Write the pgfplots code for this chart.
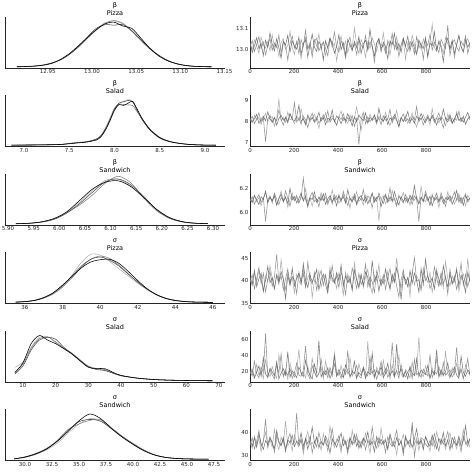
\documentclass[border=0pt]{standalone}
\usepackage{pgfplots}
\pgfplotsset{compat=1.18}
\usepackage{pgfplotstable}
\usepackage{fontspec}
\setmainfont{DejaVu Sans}
\definecolor{cA}{HTML}{000000}
\definecolor{cB}{HTML}{4D4D4D}
\definecolor{cC}{HTML}{808080}
\definecolor{cD}{HTML}{B3B3B3}
\definecolor{tA}{HTML}{5A5A5A}
\definecolor{tB}{HTML}{787878}
\definecolor{tC}{HTML}{9A9A9A}
\definecolor{spine}{HTML}{262626}

\pgfplotstableread{
x a b c d
12.915 0.003 0.002 0.002 0.001
12.925 0.008 0.005 0.006 0.005
12.935 0.018 0.015 0.017 0.014
12.945 0.037 0.042 0.040 0.035
12.955 0.080 0.090 0.085 0.078
12.965 0.170 0.160 0.165 0.158
12.975 0.300 0.280 0.290 0.282
12.985 0.470 0.450 0.440 0.455
12.995 0.650 0.660 0.630 0.640
13.005 0.820 0.850 0.810 0.830
13.015 0.950 0.930 0.960 0.975
13.025 0.985 0.920 1.020 1.010
13.035 0.900 0.930 0.960 0.945
13.045 0.850 0.800 0.790 0.780
13.055 0.640 0.600 0.590 0.620
13.065 0.420 0.410 0.405 0.430
13.075 0.250 0.265 0.250 0.262
13.085 0.140 0.150 0.140 0.146
13.095 0.075 0.070 0.072 0.075
13.105 0.035 0.030 0.034 0.033
13.115 0.014 0.012 0.013 0.013
13.125 0.006 0.004 0.005 0.005
13.135 0.002 0.002 0.002 0.001
}\kdeA
\pgfplotstableread{
x a b c d
6.86 0.004 0.003 0.006 0.004
7.00 0.007 0.006 0.009 0.008
7.20 0.011 0.010 0.013 0.012
7.40 0.020 0.018 0.022 0.020
7.50 0.035 0.045 0.040 0.038
7.60 0.055 0.065 0.060 0.058
7.70 0.075 0.085 0.080 0.078
7.80 0.120 0.140 0.140 0.120
7.85 0.190 0.210 0.220 0.190
7.90 0.340 0.360 0.380 0.330
7.95 0.550 0.560 0.600 0.530
8.00 0.780 0.800 0.820 0.760
8.05 0.900 0.930 0.910 0.930
8.10 0.880 0.960 0.900 0.970
8.15 0.930 0.990 0.890 1.010
8.20 0.970 0.960 0.880 0.970
8.25 0.800 0.770 0.740 0.790
8.30 0.610 0.580 0.600 0.600
8.35 0.460 0.440 0.460 0.450
8.40 0.330 0.320 0.340 0.330
8.50 0.170 0.160 0.180 0.170
8.60 0.090 0.085 0.095 0.090
8.70 0.048 0.050 0.052 0.050
8.80 0.024 0.026 0.026 0.025
8.90 0.012 0.013 0.014 0.013
9.00 0.006 0.006 0.007 0.006
9.12 0.003 0.002 0.004 0.003
}\kdeB
\pgfplotstableread{
x a b c d
5.915 0.003 0.002 0.004 0.003
5.940 0.013 0.011 0.012 0.012
5.965 0.045 0.038 0.040 0.042
5.990 0.120 0.100 0.110 0.110
6.015 0.270 0.240 0.250 0.260
6.040 0.520 0.450 0.420 0.480
6.065 0.770 0.700 0.640 0.740
6.090 0.920 0.930 0.900 0.960
6.115 0.950 0.990 1.050 0.980
6.140 0.820 0.860 0.900 0.830
6.165 0.580 0.600 0.570 0.570
6.190 0.320 0.310 0.290 0.310
6.215 0.140 0.130 0.120 0.130
6.240 0.050 0.045 0.042 0.046
6.265 0.015 0.013 0.013 0.014
6.290 0.004 0.004 0.004 0.005
}\kdeC
\pgfplotstableread{
x a b c d
35.5 0.005 0.006 0.007 0.005
36.0 0.015 0.018 0.018 0.015
36.5 0.040 0.046 0.045 0.040
37.0 0.100 0.110 0.100 0.090
37.5 0.210 0.210 0.190 0.180
38.0 0.380 0.370 0.340 0.340
38.5 0.570 0.580 0.540 0.600
39.0 0.760 0.800 0.770 0.880
39.5 0.890 0.950 0.950 1.060
40.0 0.940 1.000 1.020 1.040
40.5 0.950 0.930 0.970 0.900
41.0 0.860 0.800 0.820 0.740
41.5 0.680 0.620 0.630 0.580
42.0 0.480 0.450 0.440 0.420
42.5 0.300 0.290 0.290 0.280
43.0 0.170 0.170 0.170 0.160
43.5 0.085 0.090 0.090 0.085
44.0 0.040 0.045 0.044 0.040
44.5 0.017 0.020 0.019 0.018
45.0 0.007 0.008 0.008 0.007
45.5 0.003 0.003 0.003 0.003
46.0 0.001 0.001 0.001 0.001
}\kdeD
\pgfplotstableread{
x a b c d
7.5 0.18 0.15 0.20 0.30
10.0 0.40 0.33 0.37 0.42
12.5 0.82 0.68 0.72 0.74
15.0 1.00 0.90 0.93 0.96
17.5 0.90 0.96 0.97 0.98
20.0 0.82 0.92 0.86 0.84
22.5 0.71 0.74 0.72 0.71
25.0 0.59 0.60 0.61 0.60
27.5 0.44 0.45 0.46 0.46
30.0 0.30 0.31 0.32 0.33
32.5 0.27 0.25 0.27 0.27
35.0 0.27 0.23 0.25 0.23
37.5 0.19 0.17 0.18 0.17
40.0 0.12 0.11 0.12 0.12
45.0 0.06 0.06 0.06 0.06
50.0 0.030 0.030 0.030 0.030
55.0 0.015 0.015 0.016 0.015
60.0 0.008 0.008 0.008 0.008
65.0 0.004 0.004 0.004 0.004
68.0 0.002 0.002 0.002 0.002
}\kdeE
\pgfplotstableread{
x a b c d
29 0.010 0.012 0.010 0.010
30 0.050 0.055 0.045 0.050
31 0.120 0.130 0.110 0.120
32 0.230 0.240 0.220 0.210
33 0.400 0.410 0.420 0.360
34 0.620 0.640 0.660 0.580
35 0.850 0.830 0.780 0.780
36 1.000 0.880 0.860 0.900
37 0.900 0.840 0.880 0.860
38 0.680 0.680 0.700 0.690
39 0.490 0.500 0.510 0.510
40 0.330 0.340 0.350 0.350
41 0.190 0.200 0.210 0.200
42 0.095 0.100 0.100 0.100
43 0.043 0.045 0.045 0.046
44 0.020 0.020 0.020 0.021
45 0.010 0.010 0.010 0.011
46 0.006 0.006 0.006 0.007
47 0.004 0.004 0.004 0.004
}\kdeF

\pgfplotsset{
  base/.style={scale only axis, height=51pt, anchor=north west,
    axis lines*=left, axis line style={line width=0.5pt, color=spine, -},
    tick style={draw=none},
    ticklabel style={font=\fontsize{5.5}{6}\selectfont, text=black!85},
    xticklabel style={inner sep=1.5pt},
    yticklabel style={inner sep=1.5pt},
    title style={font=\fontsize{6.5}{8.3}\selectfont, align=center, at={(0.5,1)}, anchor=south, inner sep=0.8pt, yshift=-5.5pt}},
  kde/.style={base, width=220pt, ymin=-0.025, ymax=1.1, ytick=\empty},
  trace/.style={base, width=220pt, xmin=0, xmax=999, xtick={0,200,400,600,800},
    xticklabels={0,200,400,600,800}},
  kl/.style={line width=0.55pt, smooth},
  tr/.style={line width=0.55pt, opacity=0.8},
}

\begin{document}
\begin{tikzpicture}
\path[use as bounding box] (0,0) rectangle (474pt,473pt);

% ---------- Row 1: beta Pizza ----------
\begin{axis}[kde, at={(5pt,456pt)}, title={β\\Pizza}, xmin=12.9017, xmax=13.1505,
  xtick={12.95,13.00,13.05,13.10,13.15}, xticklabels={12.95,13.00,13.05,13.10,13.15}]
\addplot[cD, kl] table[x=x, y=d] {\kdeA};
\addplot[cC, kl] table[x=x, y=c] {\kdeA};
\addplot[cB, kl] table[x=x, y=b] {\kdeA};
\addplot[cA, kl] table[x=x, y=a] {\kdeA};
\end{axis}
\begin{axis}[trace, at={(250pt,456pt)}, title={β\\Pizza}, ymin=12.914, ymax=13.157,
  ytick={13.0,13.1}, yticklabels={13.0,13.1}]
\addplot[tC, tr] table[row sep=\\, header=false, x expr=\coordindex*10.09, y index=0] {
13.031\\13.002\\13.047\\13.018\\12.985\\13.060\\13.024\\13.009\\13.041\\12.996\\
13.072\\13.015\\13.028\\12.968\\13.036\\13.054\\13.003\\13.021\\13.089\\13.012\\
12.979\\13.044\\13.030\\12.958\\13.026\\13.061\\13.008\\13.035\\12.991\\13.049\\
13.017\\13.077\\13.001\\13.039\\12.973\\13.023\\13.056\\13.011\\13.033\\12.947\\
13.020\\13.066\\13.005\\13.042\\12.988\\13.029\\13.013\\13.104\\13.025\\12.982\\
13.050\\13.019\\12.964\\13.037\\13.007\\13.058\\13.027\\12.993\\13.045\\13.014\\
13.081\\13.000\\13.032\\12.976\\13.040\\13.016\\13.063\\12.998\\13.022\\13.048\\
12.955\\13.034\\13.010\\13.070\\13.026\\12.986\\13.043\\13.004\\13.052\\13.019\\
12.970\\13.038\\13.123\\13.012\\12.994\\13.046\\13.023\\12.981\\13.059\\13.030\\
13.006\\13.041\\12.962\\13.027\\13.068\\13.015\\12.990\\13.036\\13.054\\13.021\\
};
\addplot[tB, tr] table[row sep=\\, header=false, x expr=\coordindex*10.09, y index=0] {
13.012\\13.045\\12.992\\13.027\\13.063\\13.004\\13.038\\12.977\\13.020\\13.055\\
12.998\\13.033\\13.011\\13.071\\12.985\\13.042\\13.024\\12.951\\13.030\\13.066\\
13.009\\13.036\\12.983\\13.049\\13.017\\13.094\\13.002\\13.028\\12.967\\13.041\\
13.056\\12.995\\13.022\\13.037\\13.008\\12.972\\13.050\\13.026\\13.085\\13.013\\
12.989\\13.044\\13.019\\12.960\\13.034\\13.061\\13.001\\13.029\\12.978\\13.047\\
13.023\\13.010\\13.069\\12.996\\13.039\\13.016\\12.942\\13.031\\13.053\\13.007\\
13.026\\12.984\\13.045\\13.018\\13.078\\13.003\\13.035\\12.969\\13.024\\13.058\\
13.014\\12.993\\13.040\\13.027\\12.980\\13.064\\13.009\\13.032\\12.954\\13.046\\
13.021\\13.074\\12.999\\13.037\\13.012\\12.987\\13.051\\13.025\\13.006\\13.118\\
12.974\\13.033\\13.048\\13.015\\12.994\\13.042\\13.020\\13.067\\12.983\\13.029\\
};
\addplot[tA, tr] table[row sep=\\, header=false, x expr=\coordindex*10.09, y index=0] {
13.040\\12.987\\13.021\\13.058\\13.006\\13.032\\12.973\\13.046\\13.015\\13.082\\
13.027\\12.996\\13.053\\13.010\\12.961\\13.037\\13.024\\13.069\\12.990\\13.043\\
13.019\\13.004\\13.061\\12.980\\13.030\\13.048\\12.966\\13.025\\13.075\\13.013\\
12.994\\13.039\\13.022\\12.952\\13.044\\13.008\\13.057\\13.031\\12.985\\13.016\\
13.072\\13.001\\13.035\\12.976\\13.050\\13.023\\12.997\\13.041\\13.011\\13.063\\
12.983\\13.028\\13.046\\13.005\\13.098\\13.019\\12.971\\13.034\\13.055\\12.992\\
13.037\\13.014\\12.958\\13.043\\13.026\\13.079\\13.002\\13.031\\12.988\\13.052\\
13.018\\13.065\\12.995\\13.040\\13.009\\12.978\\13.047\\13.024\\13.007\\13.060\\
12.965\\13.033\\13.020\\13.086\\12.999\\13.038\\13.012\\12.944\\13.029\\13.056\\
13.003\\13.045\\12.982\\13.025\\13.070\\13.016\\12.991\\13.049\\13.013\\13.036\\
};
\end{axis}

% ---------- Row 2: beta Salad ----------
\begin{axis}[kde, at={(5pt,377.5pt)}, title={β\\Salad}, xmin=6.79, xmax=9.221,
  xtick={7.0,7.5,8.0,8.5,9.0}, xticklabels={7.0,7.5,8.0,8.5,9.0}]
\addplot[cD, kl] table[x=x, y=d] {\kdeB};
\addplot[cC, kl] table[x=x, y=c] {\kdeB};
\addplot[cB, kl] table[x=x, y=b] {\kdeB};
\addplot[cA, kl] table[x=x, y=a] {\kdeB};
\end{axis}
\begin{axis}[trace, at={(250pt,377.5pt)}, title={β\\Salad}, ymin=6.83, ymax=9.26,
  ytick={7,8,9}, yticklabels={7,8,9}]
\addplot[tC, tr] table[row sep=\\, header=false, x expr=\coordindex*10.09, y index=0] {
8.14\\7.95\\8.31\\8.08\\8.22\\7.88\\8.17\\8.40\\8.03\\8.19\\
8.26\\7.79\\8.12\\9.08\\8.05\\8.21\\7.98\\8.47\\8.10\\8.15\\
7.91\\8.28\\8.06\\8.62\\8.13\\7.84\\8.24\\8.01\\8.18\\8.37\\
8.09\\7.70\\8.20\\8.11\\8.44\\7.97\\8.16\\8.29\\8.04\\7.86\\
8.23\\8.52\\8.07\\8.14\\7.93\\8.33\\8.02\\8.19\\8.71\\8.10\\
7.60\\8.25\\8.12\\7.96\\8.38\\8.06\\8.17\\7.89\\8.27\\8.13\\
8.00\\8.45\\8.09\\7.82\\8.21\\8.15\\8.56\\7.99\\8.18\\8.05\\
8.30\\7.92\\8.14\\8.41\\8.03\\7.75\\8.22\\8.11\\8.34\\8.07\\
8.16\\7.87\\8.64\\8.08\\8.20\\7.95\\8.26\\8.12\\7.81\\8.39\\
8.04\\8.18\\7.98\\8.49\\8.13\\8.02\\8.29\\7.90\\8.15\\8.23\\
};
\addplot[tB, tr] table[row sep=\\, header=false, x expr=\coordindex*10.09, y index=0] {
8.09\\8.27\\7.92\\8.16\\8.44\\8.01\\8.20\\7.06\\8.13\\8.32\\
7.97\\8.18\\8.06\\8.58\\8.11\\7.85\\8.24\\8.03\\8.37\\8.14\\
8.92\\8.00\\8.19\\7.89\\8.28\\8.10\\7.73\\8.15\\8.42\\8.05\\
8.22\\7.94\\8.13\\8.34\\8.07\\8.53\\7.99\\8.17\\8.09\\7.83\\
8.26\\8.12\\8.40\\7.96\\8.21\\8.04\\8.31\\7.78\\8.16\\6.92\\
8.10\\8.46\\7.91\\8.24\\8.02\\8.14\\8.35\\8.01\\8.19\\7.87\\
8.29\\8.08\\8.12\\8.60\\7.95\\8.23\\8.06\\7.80\\8.18\\8.38\\
8.03\\8.15\\7.93\\8.27\\8.11\\8.74\\8.00\\8.20\\7.86\\8.13\\
8.33\\8.07\\8.25\\7.98\\8.16\\8.43\\8.05\\7.72\\8.21\\8.10\\
8.36\\7.94\\8.17\\8.08\\8.51\\8.02\\8.24\\7.89\\8.14\\8.30\\
};
\addplot[tA, tr] table[row sep=\\, header=false, x expr=\coordindex*10.09, y index=0] {
8.20\\8.01\\8.15\\8.36\\7.93\\8.11\\8.27\\8.05\\8.48\\8.14\\
8.00\\8.22\\7.84\\8.17\\8.31\\8.08\\8.19\\7.96\\8.41\\8.12\\
8.06\\8.25\\8.79\\8.03\\8.16\\7.90\\8.34\\8.10\\8.21\\7.98\\
8.13\\8.46\\8.04\\8.23\\7.87\\8.18\\8.09\\8.57\\8.01\\8.28\\
8.15\\7.92\\8.20\\8.07\\8.39\\8.12\\7.81\\8.24\\8.02\\8.33\\
8.17\\8.06\\8.43\\7.95\\8.21\\8.10\\8.30\\7.99\\8.66\\8.14\\
8.04\\8.26\\7.88\\8.19\\8.08\\8.35\\8.13\\7.76\\8.22\\8.01\\
8.18\\8.50\\8.05\\8.15\\7.94\\8.28\\8.09\\8.40\\8.12\\7.97\\
8.24\\8.03\\8.32\\8.11\\7.85\\8.20\\8.07\\8.61\\8.16\\8.00\\
8.27\\7.93\\8.14\\8.38\\8.06\\8.19\\7.99\\8.23\\8.45\\8.10\\
};
\end{axis}

% ---------- Row 3: beta Sandwich ----------
\begin{axis}[kde, at={(5pt,299pt)}, title={β\\Sandwich}, xmin=5.894, xmax=6.3234,
  xtick={5.90,5.95,6.00,6.05,6.10,6.15,6.20,6.25,6.30},
  xticklabels={5.90,5.95,6.00,6.05,6.10,6.15,6.20,6.25,6.30}]
\addplot[cD, kl] table[x=x, y=d] {\kdeC};
\addplot[cC, kl] table[x=x, y=c] {\kdeC};
\addplot[cB, kl] table[x=x, y=b] {\kdeC};
\addplot[cA, kl] table[x=x, y=a] {\kdeC};
\end{axis}
\begin{axis}[trace, at={(250pt,299pt)}, title={β\\Sandwich}, ymin=5.9, ymax=6.325,
  ytick={6.0,6.2}, yticklabels={6.0,6.2}]
\addplot[tC, tr] table[row sep=\\, header=false, x expr=\coordindex*10.09, y index=0] {
6.112\\6.085\\6.143\\6.097\\6.128\\6.061\\6.119\\6.174\\6.090\\6.134\\
6.105\\6.158\\6.072\\6.121\\6.183\\6.094\\6.138\\6.047\\6.115\\6.166\\
6.101\\6.130\\6.079\\6.147\\6.108\\6.201\\6.089\\6.125\\6.056\\6.140\\
6.117\\6.093\\6.169\\6.104\\6.132\\6.068\\6.123\\6.190\\6.099\\6.145\\
6.082\\6.113\\6.155\\6.091\\6.127\\6.040\\6.136\\6.107\\6.178\\6.096\\
6.120\\6.066\\6.149\\6.110\\6.087\\6.160\\6.102\\6.131\\5.935\\6.118\\
6.144\\6.077\\6.126\\6.098\\6.187\\6.109\\6.053\\6.137\\6.114\\6.171\\
6.092\\6.129\\6.064\\6.150\\6.106\\6.139\\6.081\\6.221\\6.111\\6.095\\
6.133\\6.070\\6.157\\6.103\\6.124\\6.045\\6.141\\6.116\\6.088\\6.176\\
6.108\\6.135\\6.074\\6.122\\6.162\\6.097\\6.130\\6.059\\6.146\\6.113\\
};
\addplot[tB, tr] table[row sep=\\, header=false, x expr=\coordindex*10.09, y index=0] {
6.098\\6.136\\6.073\\6.119\\6.152\\6.090\\6.127\\5.931\\6.108\\6.141\\
6.083\\6.164\\6.113\\6.069\\6.131\\6.099\\6.185\\6.121\\6.058\\6.139\\
6.106\\6.147\\6.087\\6.124\\6.292\\6.111\\6.065\\6.133\\6.172\\6.095\\
6.118\\6.051\\6.140\\6.104\\6.163\\6.085\\6.129\\6.076\\6.151\\6.110\\
6.137\\6.092\\6.180\\6.115\\6.062\\6.126\\6.100\\6.158\\6.081\\6.134\\
6.109\\6.196\\6.089\\6.142\\6.120\\6.044\\6.131\\6.097\\6.167\\6.114\\
6.078\\6.139\\6.106\\6.210\\6.093\\6.125\\6.067\\6.148\\6.111\\6.084\\
6.154\\6.102\\6.128\\6.071\\6.143\\6.116\\5.928\\6.135\\6.099\\6.181\\
6.120\\6.061\\6.145\\6.107\\6.132\\6.088\\6.169\\6.113\\6.055\\6.138\\
6.096\\6.127\\6.176\\6.104\\6.141\\6.080\\6.122\\6.159\\6.091\\6.117\\
};
\addplot[tA, tr] table[row sep=\\, header=false, x expr=\coordindex*10.09, y index=0] {
6.125\\6.091\\6.148\\6.107\\6.070\\6.135\\6.115\\6.182\\6.086\\6.129\\
6.102\\6.140\\6.063\\6.118\\6.157\\6.095\\6.131\\6.079\\6.206\\6.110\\
6.137\\6.084\\6.121\\6.166\\6.099\\6.142\\6.050\\6.126\\6.113\\6.175\\
6.089\\6.133\\6.104\\6.160\\6.072\\6.119\\6.145\\6.096\\6.128\\6.059\\
6.151\\6.108\\6.136\\6.082\\6.194\\6.116\\6.093\\6.139\\6.067\\6.122\\
6.147\\6.100\\6.131\\6.076\\6.114\\6.168\\6.090\\6.127\\6.142\\6.054\\
6.120\\6.157\\6.087\\6.134\\6.101\\6.179\\6.112\\6.066\\6.138\\6.097\\
6.125\\6.085\\6.149\\6.109\\6.229\\6.117\\6.075\\6.132\\6.094\\6.155\\
6.103\\6.140\\6.060\\6.121\\6.164\\6.098\\6.135\\6.080\\6.126\\6.111\\
6.146\\6.073\\6.118\\6.187\\6.092\\6.130\\6.063\\6.143\\6.106\\6.124\\
};
\end{axis}

% ---------- Row 4: sigma Pizza ----------
\begin{axis}[kde, at={(5pt,220.5pt)}, title={σ\\Pizza}, xmin=34.94, xmax=46.64,
  xtick={36,38,40,42,44,46}, xticklabels={36,38,40,42,44,46}]
\addplot[cD, kl] table[x=x, y=d] {\kdeD};
\addplot[cC, kl] table[x=x, y=c] {\kdeD};
\addplot[cB, kl] table[x=x, y=b] {\kdeD};
\addplot[cA, kl] table[x=x, y=a] {\kdeD};
\end{axis}
\begin{axis}[trace, at={(250pt,220.5pt)}, title={σ\\Pizza}, ymin=34.9, ymax=46.44,
  ytick={35,40,45}, yticklabels={35,40,45}]
\addplot[tC, tr] table[row sep=\\, header=false, x expr=\coordindex*10.09, y index=0] {
40.3\\38.9\\41.7\\39.6\\42.5\\40.1\\37.8\\41.2\\39.9\\43.4\\
40.6\\38.4\\41.0\\39.2\\44.8\\40.4\\38.1\\42.1\\39.7\\40.9\\
37.3\\41.5\\40.0\\39.1\\42.8\\38.7\\40.7\\41.9\\36.2\\40.2\\
39.4\\42.3\\38.6\\40.8\\41.4\\37.6\\43.1\\39.8\\40.5\\38.3\\
41.8\\40.0\\36.8\\42.0\\39.5\\41.1\\38.0\\44.1\\40.3\\39.0\\
41.6\\38.5\\40.9\\42.6\\39.3\\37.2\\41.3\\40.1\\43.7\\38.8\\
40.4\\39.9\\42.2\\37.9\\41.0\\39.6\\45.2\\40.6\\38.2\\41.7\\
39.4\\40.8\\36.5\\42.4\\39.1\\41.2\\40.0\\38.6\\43.0\\40.7\\
39.7\\41.9\\37.4\\40.2\\42.7\\39.0\\41.4\\38.4\\44.4\\40.5\\
38.9\\41.1\\39.8\\42.9\\37.7\\40.3\\41.6\\39.2\\45.1\\40.0\\
};
\addplot[tB, tr] table[row sep=\\, header=false, x expr=\coordindex*10.09, y index=0] {
39.8\\41.4\\38.2\\40.6\\43.0\\39.4\\41.8\\37.5\\40.3\\42.2\\
38.8\\40.9\\46.0\\39.6\\41.2\\38.0\\40.5\\42.7\\39.1\\41.0\\
40.2\\37.1\\42.0\\39.9\\41.6\\38.6\\44.3\\40.4\\39.3\\41.9\\
37.9\\40.7\\42.4\\39.0\\41.3\\38.4\\40.1\\43.5\\39.7\\41.1\\
38.5\\42.1\\40.0\\36.9\\41.5\\39.5\\42.9\\40.8\\38.3\\41.7\\
39.2\\40.4\\43.8\\38.7\\41.0\\39.8\\37.4\\42.3\\40.6\\39.1\\
41.4\\38.1\\40.9\\42.8\\39.6\\41.8\\38.9\\36.4\\40.2\\42.5\\
39.3\\40.7\\38.6\\41.6\\45.3\\39.9\\40.3\\37.8\\42.0\\40.1\\
41.2\\38.3\\39.7\\43.2\\40.5\\38.8\\41.9\\39.4\\40.8\\37.0\\
42.6\\39.5\\41.1\\38.1\\40.4\\44.0\\39.0\\41.5\\38.7\\40.9\\
};
\addplot[tA, tr] table[row sep=\\, header=false, x expr=\coordindex*10.09, y index=0] {
41.0\\39.3\\42.4\\38.7\\40.5\\41.8\\37.6\\40.2\\43.3\\39.6\\
40.8\\38.2\\41.5\\39.9\\42.1\\40.4\\36.0\\41.2\\39.1\\42.9\\
38.9\\40.6\\41.7\\39.4\\43.9\\40.1\\38.5\\41.3\\39.8\\40.9\\
42.6\\38.0\\40.3\\41.6\\39.2\\37.3\\42.2\\40.7\\39.5\\41.9\\
40.0\\43.6\\38.8\\41.1\\39.7\\40.5\\37.9\\42.5\\40.2\\38.4\\
41.4\\39.0\\42.0\\40.8\\38.6\\44.6\\39.9\\41.2\\37.7\\40.4\\
39.4\\42.7\\40.0\\38.3\\41.5\\39.8\\43.0\\40.6\\35.8\\41.1\\
40.3\\38.7\\42.3\\39.5\\41.8\\40.1\\37.5\\42.8\\39.2\\44.9\\
41.0\\39.6\\40.7\\38.2\\42.1\\40.4\\39.0\\43.4\\40.9\\38.6\\
41.7\\39.3\\40.2\\42.5\\38.9\\41.3\\40.0\\37.4\\42.0\\39.7\\
};
\end{axis}

% ---------- Row 5: sigma Salad ----------
\begin{axis}[kde, at={(5pt,142pt)}, title={σ\\Salad}, xmin=4.49, xmax=71.84,
  xtick={10,20,30,40,50,60,70}, xticklabels={10,20,30,40,50,60,70}]
\addplot[cD, kl] table[x=x, y=d] {\kdeE};
\addplot[cC, kl] table[x=x, y=c] {\kdeE};
\addplot[cB, kl] table[x=x, y=b] {\kdeE};
\addplot[cA, kl] table[x=x, y=a] {\kdeE};
\end{axis}
\begin{axis}[trace, at={(250pt,142pt)}, title={σ\\Salad}, ymin=7.5, ymax=71.25,
  ytick={20,40,60}, yticklabels={20,40,60}]
\addplot[tC, tr] table[row sep=\\, header=false, x expr=\coordindex*10.09, y index=0] {
18.2\\24.5\\13.1\\29.7\\16.4\\21.0\\11.8\\35.2\\19.6\\14.3\\
26.8\\17.5\\12.2\\41.6\\20.3\\15.9\\23.7\\10.9\\31.4\\18.8\\
13.6\\22.1\\48.3\\16.7\\19.9\\12.5\\27.3\\15.2\\36.9\\20.6\\
14.0\\18.4\\25.9\\11.4\\33.8\\17.1\\21.8\\13.9\\44.2\\19.3\\
15.6\\28.4\\12.8\\22.6\\17.8\\38.5\\14.7\\20.1\\11.2\\30.2\\
18.9\\24.0\\13.4\\58.1\\16.2\\21.5\\12.0\\26.1\\19.0\\15.1\\
34.6\\17.3\\22.9\\11.6\\29.0\\14.5\\20.8\\40.7\\16.9\\13.2\\
23.4\\18.5\\12.6\\32.3\\15.7\\21.3\\63.5\\17.6\\14.1\\27.6\\
19.7\\11.9\\24.8\\16.0\\37.4\\13.7\\20.4\\15.4\\45.9\\18.1\\
12.3\\25.3\\17.0\\30.8\\14.9\\22.4\\11.1\\28.8\\19.4\\16.6\\
};
\addplot[tB, tr] table[row sep=\\, header=false, x expr=\coordindex*10.09, y index=0] {
21.4\\15.0\\33.6\\17.9\\12.7\\26.4\\19.1\\68.2\\14.2\\23.0\\
16.3\\11.5\\28.9\\18.6\\42.8\\13.8\\20.7\\15.8\\24.9\\12.1\\
19.5\\31.0\\16.1\\14.6\\22.3\\52.4\\17.2\\11.3\\27.8\\20.0\\
13.3\\18.0\\36.1\\15.5\\21.7\\12.9\\25.6\\17.4\\30.5\\14.4\\
19.8\\11.7\\23.8\\16.8\\47.1\\13.0\\21.1\\18.3\\28.1\\15.3\\
12.4\\26.6\\19.2\\14.8\\39.3\\17.7\\22.7\\11.0\\20.5\\33.1\\
16.5\\24.2\\13.5\\18.7\\56.7\\15.9\\21.9\\12.2\\29.4\\17.0\\
14.0\\20.2\\25.1\\11.8\\35.7\\16.4\\19.6\\13.1\\23.5\\18.4\\
15.1\\42.0\\12.8\\21.2\\17.5\\27.0\\14.7\\31.9\\16.1\\19.0\\
22.8\\13.6\\18.8\\50.9\\15.6\\24.4\\12.5\\20.9\\37.0\\14.9\\
};
\addplot[tA, tr] table[row sep=\\, header=false, x expr=\coordindex*10.09, y index=0] {
16.9\\22.0\\12.4\\19.7\\27.5\\14.6\\38.0\\17.8\\13.0\\24.7\\
20.2\\15.4\\32.7\\11.6\\18.5\\23.9\\16.0\\45.3\\13.5\\21.6\\
17.4\\12.9\\26.2\\19.3\\14.1\\34.4\\22.5\\15.7\\11.4\\29.8\\
18.1\\59.2\\13.7\\20.6\\16.6\\25.4\\12.0\\19.9\\40.1\\15.2\\
23.1\\17.0\\13.3\\28.6\\21.3\\14.8\\18.7\\33.3\\12.6\\19.4\\
15.8\\24.6\\11.9\\20.4\\17.3\\43.5\\14.3\\22.2\\16.4\\27.1\\
12.7\\19.0\\30.9\\15.0\\21.8\\13.4\\54.8\\17.6\\24.0\\14.5\\
20.9\\11.2\\26.9\\18.2\\15.5\\36.5\\13.9\\22.6\\19.2\\16.8\\
28.3\\12.3\\21.0\\17.1\\47.8\\14.0\\23.3\\15.9\\20.1\\31.6\\
13.8\\18.9\\25.8\\16.2\\12.1\\39.7\\19.5\\14.7\\22.9\\17.7\\
};
\end{axis}

% ---------- Row 6: sigma Sandwich ----------
\begin{axis}[kde, at={(5pt,63.5pt)}, title={σ\\Sandwich}, xmin=28.15, xmax=48.52,
  xtick={30,32.5,35,37.5,40,42.5,45,47.5},
  xticklabels={30.0,32.5,35.0,37.5,40.0,42.5,45.0,47.5}]
\addplot[cD, kl] table[x=x, y=d] {\kdeF};
\addplot[cC, kl] table[x=x, y=c] {\kdeF};
\addplot[cB, kl] table[x=x, y=b] {\kdeF};
\addplot[cA, kl] table[x=x, y=a] {\kdeF};
\end{axis}
\begin{axis}[trace, at={(250pt,63.5pt)}, title={σ\\Sandwich}, ymin=28.1, ymax=49.4,
  ytick={30,40}, yticklabels={30,40}]
\addplot[tC, tr] table[row sep=\\, header=false, x expr=\coordindex*10.09, y index=0] {
35.9\\33.2\\38.4\\34.7\\37.1\\31.8\\36.5\\39.8\\34.1\\36.9\\
33.7\\41.2\\35.4\\32.6\\37.8\\35.0\\44.6\\34.3\\36.2\\32.1\\
38.9\\35.6\\33.9\\37.4\\30.8\\36.7\\40.3\\34.5\\35.8\\33.1\\
37.9\\36.1\\32.4\\39.2\\35.2\\34.0\\42.5\\36.4\\33.5\\37.0\\
35.7\\31.5\\38.1\\34.8\\36.8\\33.3\\40.8\\35.1\\37.5\\32.9\\
36.3\\34.4\\39.5\\35.5\\31.2\\37.7\\34.9\\36.6\\33.6\\41.7\\
35.3\\37.2\\32.7\\38.6\\34.2\\36.0\\30.4\\37.3\\35.8\\39.0\\
33.8\\36.5\\35.0\\42.9\\34.6\\37.6\\32.3\\36.9\\34.1\\38.3\\
35.6\\31.9\\37.8\\33.4\\40.1\\36.2\\34.7\\37.0\\32.8\\36.4\\
39.6\\34.3\\35.9\\33.0\\37.4\\35.2\\41.0\\34.8\\36.7\\33.5\\
};
\addplot[tB, tr] table[row sep=\\, header=false, x expr=\coordindex*10.09, y index=0] {
34.5\\37.6\\32.9\\36.3\\40.5\\34.0\\35.8\\45.3\\33.4\\37.2\\
36.0\\31.6\\38.7\\35.3\\34.2\\37.9\\33.0\\36.6\\39.4\\34.8\\
35.5\\47.9\\34.1\\36.8\\32.5\\37.5\\35.0\\38.2\\31.3\\36.1\\
33.8\\39.9\\35.7\\34.4\\37.0\\32.2\\36.5\\41.4\\34.9\\35.9\\
38.5\\33.1\\36.9\\35.4\\30.9\\37.7\\34.6\\36.2\\39.1\\33.6\\
35.1\\37.3\\32.6\\36.7\\34.3\\42.2\\35.6\\33.2\\37.8\\34.7\\
36.4\\31.4\\38.0\\35.2\\33.9\\37.1\\40.7\\34.5\\36.0\\32.4\\
37.4\\35.8\\33.5\\44.1\\29.8\\36.3\\34.8\\37.6\\36.9\\35.0\\
33.7\\36.6\\34.2\\39.3\\35.4\\32.0\\37.2\\34.9\\36.8\\40.2\\
35.3\\33.3\\37.9\\34.6\\36.1\\31.7\\38.4\\35.7\\34.0\\37.0\\
};
\addplot[tA, tr] table[row sep=\\, header=false, x expr=\coordindex*10.09, y index=0] {
36.8\\34.2\\37.5\\33.6\\39.1\\35.3\\32.7\\36.4\\34.9\\38.0\\
35.2\\33.1\\40.6\\36.0\\34.5\\37.3\\31.9\\36.7\\35.6\\38.6\\
33.9\\36.2\\35.0\\39.7\\34.1\\37.0\\32.8\\36.5\\42.0\\35.4\\
37.8\\33.4\\36.1\\34.7\\38.3\\35.8\\31.1\\37.2\\35.5\\33.7\\
36.9\\39.5\\34.3\\36.3\\32.4\\37.6\\35.1\\38.9\\34.0\\36.6\\
33.3\\37.4\\35.7\\40.0\\34.6\\36.0\\31.7\\38.1\\35.3\\37.0\\
34.8\\36.4\\32.9\\39.2\\35.9\\33.8\\37.7\\34.4\\36.2\\30.6\\
38.4\\35.0\\36.8\\33.5\\37.1\\41.3\\34.9\\36.5\\32.6\\37.9\\
35.6\\34.1\\38.7\\36.1\\33.0\\37.3\\35.4\\39.8\\34.2\\36.7\\
32.5\\37.6\\35.8\\34.5\\38.2\\33.9\\36.3\\42.7\\35.1\\37.4\\
};
\end{axis}
\end{tikzpicture}
\end{document}
